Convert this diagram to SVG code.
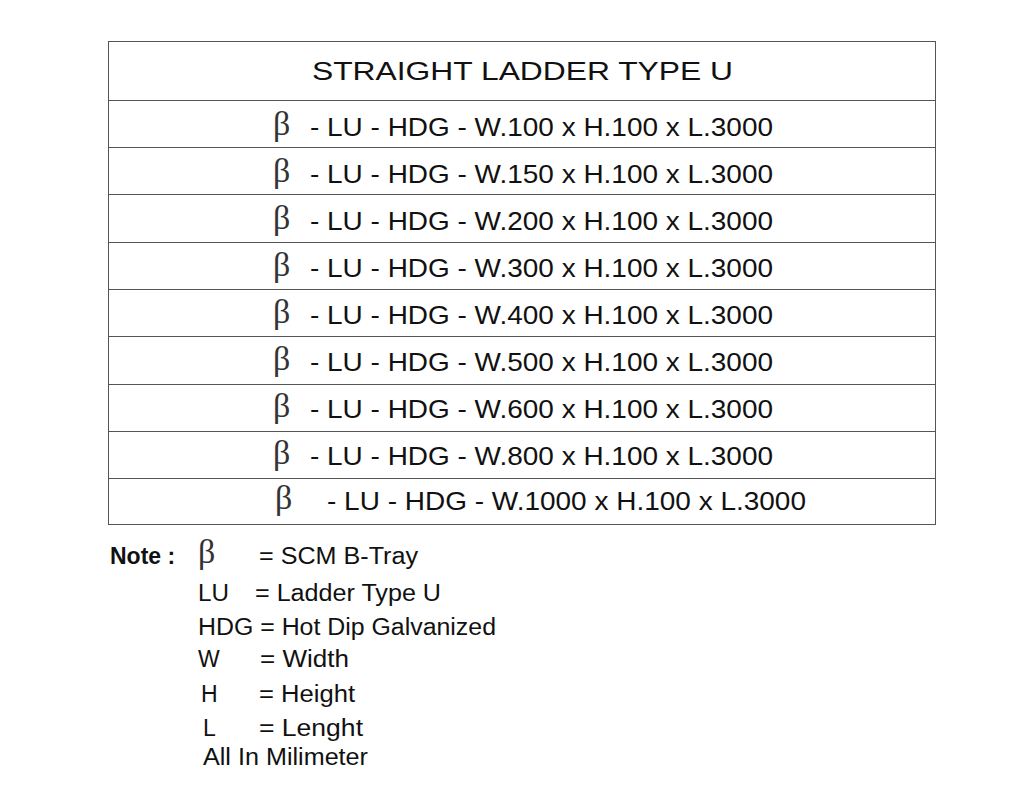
<svg xmlns="http://www.w3.org/2000/svg" width="1025" height="801" viewBox="0 0 1025 801">
<style>
.t{font-family:"Liberation Sans",Arial,sans-serif;font-size:25px;fill:#111}
.b{font-family:"Liberation Serif","DejaVu Serif",serif;font-size:34px;fill:#333}
.n{font-family:"Liberation Sans",Arial,sans-serif;font-size:23px;fill:#111}
line{stroke:#555;stroke-width:1}
</style>
<rect width="1025" height="801" fill="#fff"/>
<g id="table">
<rect x="108.5" y="41.5" width="827" height="483" fill="none" stroke="#555"/>
<line x1="108" y1="100.5" x2="935" y2="100.5"/>
<line x1="108" y1="147.5" x2="935" y2="147.5"/>
<line x1="108" y1="194.5" x2="935" y2="194.5"/>
<line x1="108" y1="242.5" x2="935" y2="242.5"/>
<line x1="108" y1="289.5" x2="935" y2="289.5"/>
<line x1="108" y1="336.5" x2="935" y2="336.5"/>
<line x1="108" y1="384.5" x2="935" y2="384.5"/>
<line x1="108" y1="431.5" x2="935" y2="431.5"/>
<line x1="108" y1="478.5" x2="935" y2="478.5"/>
<text class="t" x="312" y="80" textLength="421" lengthAdjust="spacingAndGlyphs">STRAIGHT LADDER TYPE U</text>
<text class="b" x="273" y="135">β</text><text class="t" x="310" y="136" textLength="463" lengthAdjust="spacingAndGlyphs">- LU - HDG - W.100 x H.100 x L.3000</text>
<text class="b" x="273" y="182">β</text><text class="t" x="310" y="183" textLength="463" lengthAdjust="spacingAndGlyphs">- LU - HDG - W.150 x H.100 x L.3000</text>
<text class="b" x="273" y="229">β</text><text class="t" x="310" y="230" textLength="463" lengthAdjust="spacingAndGlyphs">- LU - HDG - W.200 x H.100 x L.3000</text>
<text class="b" x="273" y="276">β</text><text class="t" x="310" y="277" textLength="463" lengthAdjust="spacingAndGlyphs">- LU - HDG - W.300 x H.100 x L.3000</text>
<text class="b" x="273" y="323">β</text><text class="t" x="310" y="324" textLength="463" lengthAdjust="spacingAndGlyphs">- LU - HDG - W.400 x H.100 x L.3000</text>
<text class="b" x="273" y="370">β</text><text class="t" x="310" y="371" textLength="463" lengthAdjust="spacingAndGlyphs">- LU - HDG - W.500 x H.100 x L.3000</text>
<text class="b" x="273" y="417">β</text><text class="t" x="310" y="418" textLength="463" lengthAdjust="spacingAndGlyphs">- LU - HDG - W.600 x H.100 x L.3000</text>
<text class="b" x="273" y="464">β</text><text class="t" x="310" y="465" textLength="463" lengthAdjust="spacingAndGlyphs">- LU - HDG - W.800 x H.100 x L.3000</text>
<text class="b" x="275" y="509">β</text><text class="t" x="327" y="510" textLength="479" lengthAdjust="spacingAndGlyphs">- LU - HDG - W.1000 x H.100 x L.3000</text>
</g>
<g id="note">
<text class="n" x="110" y="564" font-weight="bold">Note :</text>
<text class="b" x="198" y="563">β</text>
<text class="n" x="259" y="564" textLength="159" lengthAdjust="spacingAndGlyphs">= SCM B-Tray</text>
<text class="n" x="198" y="601" textLength="31" lengthAdjust="spacingAndGlyphs">LU</text><text class="n" x="255" y="601" textLength="186" lengthAdjust="spacingAndGlyphs">= Ladder Type U</text>
<text class="n" x="198" y="635" textLength="298" lengthAdjust="spacingAndGlyphs">HDG = Hot Dip Galvanized</text>
<text class="n" x="198" y="667">W</text><text class="n" x="260" y="667" textLength="89" lengthAdjust="spacingAndGlyphs">= Width</text>
<text class="n" x="201" y="702">H</text><text class="n" x="259" y="702" textLength="96" lengthAdjust="spacingAndGlyphs">= Height</text>
<text class="n" x="203" y="736">L</text><text class="n" x="259" y="736" textLength="104" lengthAdjust="spacingAndGlyphs">= Lenght</text>
<text class="n" x="203" y="765" textLength="165" lengthAdjust="spacingAndGlyphs">All In Milimeter</text>
</g>
</svg>
